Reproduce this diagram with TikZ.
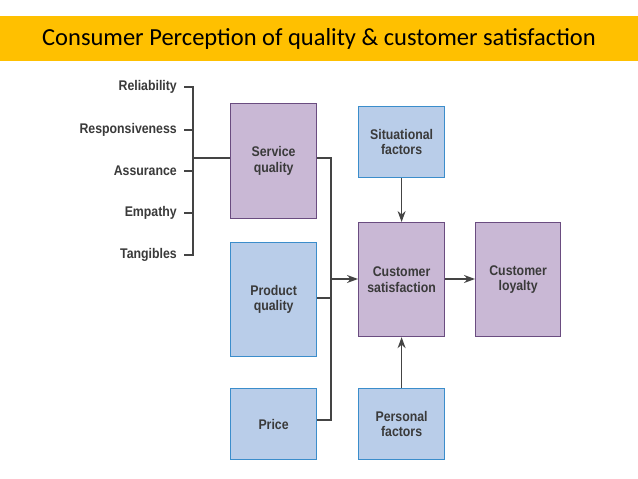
\documentclass[tikz,border=0pt]{standalone}
\usepackage{fontspec}
\setmainfont{Liberation Sans}
\newfontfamily\titlefont{Carlito}
\newfontfamily\boxfont[FakeStretch=0.88]{Liberation Sans}
\usetikzlibrary{arrows.meta}
\definecolor{band}{HTML}{FFC000}
\definecolor{pfill}{HTML}{C9B8D5}
\definecolor{pdraw}{HTML}{6A4C80}
\definecolor{bfill}{HTML}{B9CDE9}
\definecolor{bdraw}{HTML}{3B8DCB}
\definecolor{ink}{HTML}{3A3A3A}
\definecolor{wire}{HTML}{444444}
\tikzset{
  box/.style={draw, line width=1.2pt, minimum width=86pt, inner sep=0pt, align=center,
    font=\boxfont\bfseries\fontsize{14}{15.5}\selectfont, text=ink, anchor=north west},
  pbox/.style={box, fill=pfill, draw=pdraw},
  bbox/.style={box, fill=bfill, draw=bdraw},
  lbl/.style={anchor=east, inner sep=0pt, font=\boxfont\bfseries\fontsize{14}{15}\selectfont, text=ink},
  wireline/.style={draw=wire, line width=1.3pt},
  arr/.style={wireline, -{Stealth[length=11pt,width=8pt]}}
}
\begin{document}
\begin{tikzpicture}[x=1pt,y=-1pt]
\useasboundingbox (0,0) rectangle (638,479);
\fill[white] (0,0) rectangle (638,479);
\fill[band] (0,16) rectangle (638,61);
\node[font=\titlefont\fontsize{24.5}{27}\selectfont, text=black] (title) at (319,39) {Consumer Perception of quality \& customer satisfaction};

\node[pbox, minimum height=115pt] (sq) at (230,103) {Service\\quality};
\node[bbox, minimum height=114pt] (pq) at (230,242) {Product\\quality};
\node[bbox, minimum height=71pt] (pr) at (230,388) {Price};
\node[bbox, minimum height=71pt] (sf) at (358,106) {Situational\\factors};
\node[pbox, minimum height=114pt] (cs) at (358,222) {Customer\\satisfaction};
\node[pbox, minimum height=114pt, minimum width=85pt] (cl) at (475,222) {Customer\\loyalty};
\node[bbox, minimum height=71pt] (pf) at (358,388) {Personal\\factors};

\node[lbl] (l1) at (177,87) {Reliability};
\node[lbl] (l2) at (177,130) {Responsiveness};
\node[lbl] (l3) at (177,171) {Assurance};
\node[lbl] (l4) at (177,213) {Empathy};
\node[lbl] (l5) at (177,255) {Tangibles};

\coordinate (bx) at (193,158);
\draw[wireline] (184,87) -- (193,87) -- (193,255) -- (184,255);
\draw[wireline] (184,130) -- (193,130);
\draw[wireline] (184,171) -- (193,171);
\draw[wireline] (184,213) -- (193,213);
\draw[wireline] (bx) -- (sq.west |- bx);

\coordinate (j) at (331,279);
\draw[wireline] (sq.east |- 0,158) -- (331,158) -- (331,420) -- (pr.east |- 0,420);
\draw[wireline] (pq.east |- 0,298) -- (331,298);
\draw[arr] (j) -- (cs.west |- j);
\draw[arr] (cs.east |- j) -- (cl.west |- j);
\draw[arr] (sf.south) -- (cs.north);
\draw[arr] (pf.north) -- (cs.south);
\end{tikzpicture}
\end{document}
